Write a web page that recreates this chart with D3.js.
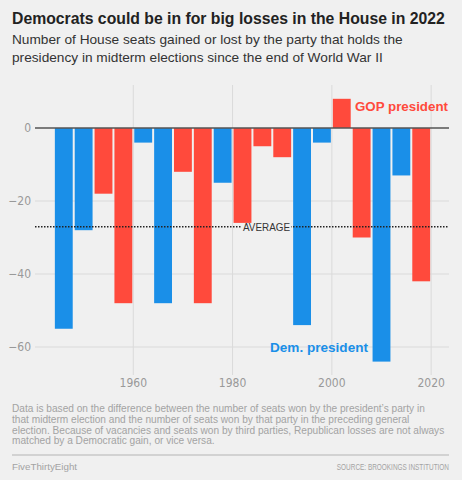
<!DOCTYPE html>
<html lang="en">
<head>
  <meta charset="UTF-8">
  <title>Midterm House seat changes</title>
  <script src="https://d3js.org/d3.v7.min.js"></script>
  <style>
    body { margin: 0; background: #f0f0f0; }
    svg { display: block; }
  </style>
</head>
<body>
  <div id="chart"></div>
  <script>
    // Midterm elections since WWII, seats gained/lost by president's party
    const years = [1946, 1950, 1954, 1958, 1962, 1966, 1970, 1974, 1978, 1982,
                   1986, 1990, 1994, 1998, 2002, 2006, 2010, 2014, 2018];
    const seats = [-55, -28, -18, -48, -4, -48, -12, -48, -15, -26,
                   -5, -8, -54, -4, 8, -30, -64, -13, -42];
    const party = ["D", "D", "R", "R", "D", "D", "R", "R", "D", "R",
                   "R", "R", "D", "D", "R", "R", "D", "D", "R"];
    const yTicks = [0, -20, -40, -60];
    const xTicks = [1960, 1980, 2000, 2020];

    const subtitle = [
      "Number of House seats gained or lost by the party that holds the",
      "presidency in midterm elections since the end of World War II"
    ];
    const footnote = [
      "Data is based on the difference between the number of seats won by the president\u2019s party in",
      "that midterm election and the number of seats won by that party in the preceding general",
      "election. Because of vacancies and seats won by third parties, Republican losses are not always",
      "matched by a Democratic gain, or vice versa."
    ];

    const width = 462, height = 480;
    const sans = "'Liberation Sans', Arial, sans-serif";
    const narrow = "'Liberation Sans Narrow', 'DejaVu Sans Condensed', sans-serif";
    const colors = { D: "#1a8fe8", R: "#ff4a3c" };

    // shrink/grow a text's font so it spans about the wanted width
    function fit(sel, w) {
      sel.each(function () {
        const fs = parseFloat(this.getAttribute("font-size"));
        const cur = this.getComputedTextLength();
        this.setAttribute("font-size", (fs * w / cur).toFixed(2));
      });
    }

    const svg = d3.select("#chart").append("svg")
      .attr("width", width).attr("height", height);

    svg.append("rect").attr("width", width).attr("height", height).attr("fill", "#f0f0f0");

    // title + subtitle
    svg.append("text").attr("x", 12).attr("y", 24)
      .attr("font-family", sans).attr("font-weight", "bold").attr("font-size", 17)
      .attr("fill", "#222").text("Democrats could be in for big losses in the House in 2022")
      .call(fit, 433);
    const subs = svg.selectAll(".sub").data(subtitle)
      .enter().append("text")
      .attr("x", 12).attr("y", (d, i) => 44 + i * 18)
      .attr("font-family", sans).attr("font-size", 14).attr("fill", "#333")
      .text(d => d);
    subs.filter((d, i) => i === 0).call(fit, 391);
    subs.attr("font-size", subs.filter((d, i) => i === 0).attr("font-size"));

    // scales
    const x = d3.scaleLinear().domain([1940, 2024]).range([34, 451]);
    const y = d3.scaleLinear().domain([0, -60]).range([128, 347]);
    const plotL = 35, plotR = 449, plotT = 85, plotB = 375;
    const barW = x(1944) - x(1940) - 2;

    // grid
    svg.selectAll(".hgrid").data(yTicks.filter(d => d !== 0)).enter().append("line")
      .attr("x1", plotL).attr("x2", plotR)
      .attr("y1", d => y(d)).attr("y2", d => y(d))
      .attr("stroke", "#dadada").attr("stroke-width", 1);
    svg.selectAll(".vgrid").data(xTicks).enter().append("line")
      .attr("x1", d => x(d)).attr("x2", d => x(d))
      .attr("y1", plotT).attr("y2", plotB)
      .attr("stroke", "#dadada").attr("stroke-width", 1);

    // tick labels
    svg.selectAll(".ylab").data(yTicks).enter().append("text")
      .attr("x", 31).attr("y", d => y(d)).attr("dy", "0.35em")
      .attr("text-anchor", "end")
      .attr("font-family", narrow).attr("font-size", 12).attr("fill", "#999")
      .text(d => d < 0 ? "\u2212" + Math.abs(d) : d);
    svg.selectAll(".xlab").data(xTicks).enter().append("text")
      .attr("x", d => x(d)).attr("y", 383).attr("dy", "0.35em")
      .attr("text-anchor", "middle")
      .attr("font-family", narrow).attr("font-size", 12).attr("fill", "#999")
      .text(d => d);

    // bars
    svg.selectAll(".bar").data(years).enter().append("rect")
      .attr("x", d => x(d) - barW / 2)
      .attr("width", barW)
      .attr("y", (d, i) => y(Math.max(0, seats[i])))
      .attr("height", (d, i) => Math.abs(y(seats[i]) - y(0)))
      .attr("fill", (d, i) => colors[party[i]]);

    // zero line
    svg.append("line").attr("x1", plotL).attr("x2", plotR)
      .attr("y1", y(0)).attr("y2", y(0))
      .attr("stroke", "#555").attr("stroke-width", 1.5);

    // average line
    const avg = d3.mean(seats);
    svg.append("line").attr("x1", plotL).attr("x2", plotR)
      .attr("y1", y(avg)).attr("y2", y(avg))
      .attr("stroke", "#222").attr("stroke-width", 1.5)
      .attr("stroke-dasharray", "1.5,1.5");
    const avgLabel = svg.append("g");
    avgLabel.append("rect")
      .attr("x", 242).attr("y", y(avg) - 3).attr("width", 49).attr("height", 6)
      .attr("fill", "#f0f0f0");
    avgLabel.append("text")
      .attr("transform", `translate(243,${y(avg)}) scale(0.85,1)`)
      .attr("dy", "0.36em")
      .attr("font-family", sans).attr("font-size", 10.5).attr("fill", "#333")
      .text("AVERAGE")
      .call(fit, 47 / 0.85);

    // party labels
    svg.append("text").attr("x", 355).attr("y", 111)
      .attr("font-family", sans).attr("font-weight", "bold").attr("font-size", 14)
      .attr("fill", colors.R).text("GOP president")
      .call(fit, 93);
    svg.append("text").attr("x", 270).attr("y", 352)
      .attr("font-family", sans).attr("font-weight", "bold").attr("font-size", 14)
      .attr("fill", colors.D).text("Dem. president")
      .call(fit, 98);

    // footnote
    const foot = svg.selectAll(".foot").data(footnote).enter().append("text")
      .attr("x", 12).attr("y", (d, i) => 412 + i * 10.8)
      .attr("font-family", sans).attr("font-size", 10).attr("fill", "#a3a3a3")
      .text(d => d);
    foot.filter((d, i) => i === 2).call(fit, 433);
    foot.attr("font-size", foot.filter((d, i) => i === 2).attr("font-size"));

    svg.append("line").attr("x1", 12).attr("x2", 449).attr("y1", 455).attr("y2", 455)
      .attr("stroke", "#c8c8c8").attr("stroke-width", 1.5);
    svg.append("text").attr("x", 12).attr("y", 469.5)
      .attr("font-family", sans).attr("font-size", 10.5).attr("fill", "#a3a3a3")
      .text("FiveThirtyEight")
      .call(fit, 65);
    // condensed look for the source line
    svg.append("text")
      .attr("transform", "translate(449,469.5) scale(0.75,1)")
      .attr("text-anchor", "end")
      .attr("font-family", sans).attr("font-size", 9.5).attr("fill", "#a3a3a3")
      .text("SOURCE: BROOKINGS INSTITUTION")
      .call(fit, 112 / 0.75);
  </script>
</body>
</html>
